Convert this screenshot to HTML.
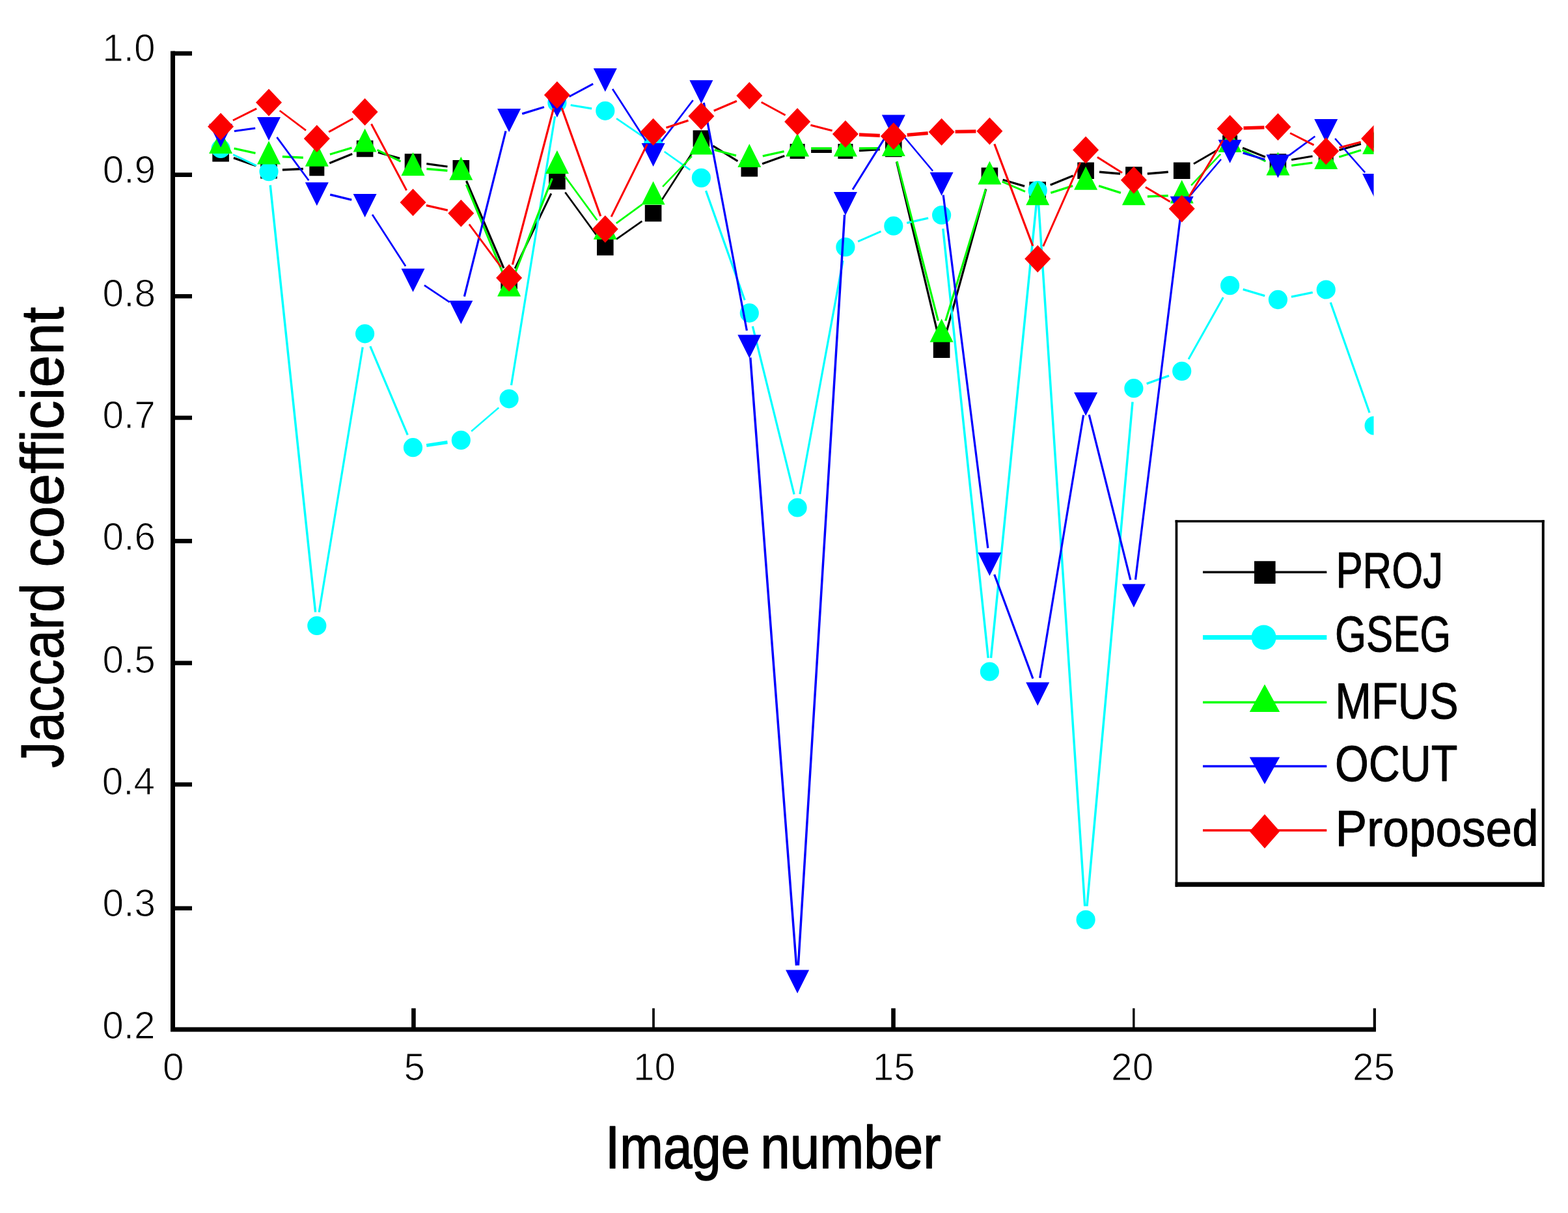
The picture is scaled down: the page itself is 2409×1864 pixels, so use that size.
<!DOCTYPE html>
<html lang="en"><head><meta charset="utf-8"><title>Jaccard coefficient</title>
<style>html,body{margin:0;padding:0;background:#fff}svg{display:block}text{font-family:"Liberation Sans",sans-serif;fill:#000}.tk{font-size:58.5px;stroke:#fff;stroke-width:1.1px}.ax{font-size:93px;stroke:#000;stroke-width:1.7px;stroke-linejoin:round}.ay{stroke-width:1px}.lg{font-size:78px;stroke:#000;stroke-width:1px;stroke-linejoin:round}</style></head><body>
<svg width="2409" height="1864" viewBox="0 0 2409 1864">
<rect width="2409" height="1864" fill="#fff"/>
<defs><clipPath id="c"><rect x="262" y="60" width="1848.5" height="1526"/></clipPath></defs>
<g clip-path="url(#c)">
<path d="M868.3 295.5L917.4 362.7M946.9 367.6L986.4 339.8M1015 310L1066.1 230.7" stroke="#000000" stroke-width="2.75" fill="none"/><path d="M791.2 412.6L846.8 297.4M1095.3 224.1L1133.4 247.6M1833.9 251.8L1871.4 230" stroke="#000000" stroke-width="3" fill="none"/><path d="M358.9 242.6L393.2 254.8M506.2 250.7L541.2 236.5M580.9 234.1L614.2 243.4M655.3 251.7L687.5 256M716.5 278L773.9 412.2M1171.1 251.7L1205.3 239.5M1377.6 248.9L1441.7 516.8M1452.2 517L1514.8 290.5M1540.6 276.2L1574.1 286.1M1613.7 284.2L1648.6 270.1M1909.1 227.3L1943.9 241.2M1984.1 245.5L2016.5 240M2057.4 230.8L2090.9 221.2" stroke="#000000" stroke-width="3.25" fill="none"/><path d="M433.9 260.9L465.8 259.6M1319.9 231.4L1351.8 229.6M1689 264.2L1721 267.1M1762.8 267.1L1794.8 264.2" stroke="#000000" stroke-width="3.5" fill="none"/><path d="M1246.1 232.5L1277.9 232.5" stroke="#000000" stroke-width="5.2" fill="none"/>
<path d="M326.3 222.8h25.6v25.6h-25.6zM400.2 249h25.6v25.6h-25.6zM475.3 247.2h23v23h-23zM547.8 215.7h25.6v25.6h-25.6zM621.7 236.2h25.6v25.6h-25.6zM695.5 245.9h25.6v25.6h-25.6zM769.3 418.7h25.6v25.6h-25.6zM843.1 265.7h25.6v25.6h-25.6zM917 366.9h25.6v25.6h-25.6zM990.8 314.9h25.6v25.6h-25.6zM1064.6 200.2h25.6v25.6h-25.6zM1138.5 245.9h25.6v25.6h-25.6zM1213.6 221h23v23h-23zM1287.4 221h23v23h-23zM1360 215.7h25.6v25.6h-25.6zM1433.8 524.4h25.6v25.6h-25.6zM1507.6 257.5h25.6v25.6h-25.6zM1581.4 279.2h25.6v25.6h-25.6zM1655.3 249.5h25.6v25.6h-25.6zM1729.1 256.2h25.6v25.6h-25.6zM1802.9 249.5h25.6v25.6h-25.6zM1878.1 208h23v23h-23zM1950.6 236.2h25.6v25.6h-25.6zM2025.7 225h23v23h-23zM2099.6 204h23v23h-23z" fill="#000000"/>
<path d="M724.2 662.7L766.2 626.5" stroke="#00ffff" stroke-width="2.5" fill="none"/><path d="M947.1 182.2L986.3 208.9M1020.7 233L1060.3 261.1" stroke="#00ffff" stroke-width="2.75" fill="none"/><path d="M358.1 237.5L394 254.6M1318.1 371.2L1353.5 355.7M1826 552L1879.3 457" stroke="#00ffff" stroke-width="3" fill="none"/><path d="M490.2 940.8L557.2 533.5M568.8 532.1L626.3 668.4M785.5 592.1L852.6 178.7M876.7 161.5L909.1 166.8M1084.5 293.1L1144.2 461.2M1156.3 501.4L1220.1 759.6M1228.9 759.3L1295.1 400.4M1393.2 342.6L1426.1 335.1M1761.7 589.6L1796 577.4M1909.7 444.6L1943.2 454.6M1983.9 456.2L2016.7 449.3M2044.2 464.8L2104.1 634.2" stroke="#00ffff" stroke-width="3.25" fill="none"/><path d="M415.2 284.5L484.6 940.6M1448.8 351.4L1518.2 1011.1M1522.5 1011.1L1592.2 313.5M1595.6 313.6L1666.7 1392.3M1670 1392.4L1740 617.6" stroke="#00ffff" stroke-width="3.5" fill="none"/><path d="M655.2 684.5L687.5 679.6" stroke="#00ffff" stroke-width="5.2" fill="none"/>
<path d="M324.5 228.5a14.6 14.6 0 1 0 29.2 0a14.6 14.6 0 1 0 -29.2 0zM398.4 263.6a14.6 14.6 0 1 0 29.2 0a14.6 14.6 0 1 0 -29.2 0zM472.2 961.5a14.6 14.6 0 1 0 29.2 0a14.6 14.6 0 1 0 -29.2 0zM546 512.8a14.6 14.6 0 1 0 29.2 0a14.6 14.6 0 1 0 -29.2 0zM619.9 687.7a14.6 14.6 0 1 0 29.2 0a14.6 14.6 0 1 0 -29.2 0zM693.7 676.4a14.6 14.6 0 1 0 29.2 0a14.6 14.6 0 1 0 -29.2 0zM767.5 612.8a14.6 14.6 0 1 0 29.2 0a14.6 14.6 0 1 0 -29.2 0zM841.3 158a14.6 14.6 0 1 0 29.2 0a14.6 14.6 0 1 0 -29.2 0zM915.2 170.3a14.6 14.6 0 1 0 29.2 0a14.6 14.6 0 1 0 -29.2 0zM989 220.8a14.6 14.6 0 1 0 29.2 0a14.6 14.6 0 1 0 -29.2 0zM1062.8 273.3a14.6 14.6 0 1 0 29.2 0a14.6 14.6 0 1 0 -29.2 0zM1136.7 481a14.6 14.6 0 1 0 29.2 0a14.6 14.6 0 1 0 -29.2 0zM1210.5 780a14.6 14.6 0 1 0 29.2 0a14.6 14.6 0 1 0 -29.2 0zM1284.3 379.7a14.6 14.6 0 1 0 29.2 0a14.6 14.6 0 1 0 -29.2 0zM1358.2 347.2a14.6 14.6 0 1 0 29.2 0a14.6 14.6 0 1 0 -29.2 0zM1432 330.5a14.6 14.6 0 1 0 29.2 0a14.6 14.6 0 1 0 -29.2 0zM1505.8 1032a14.6 14.6 0 1 0 29.2 0a14.6 14.6 0 1 0 -29.2 0zM1579.6 292.6a14.6 14.6 0 1 0 29.2 0a14.6 14.6 0 1 0 -29.2 0zM1653.5 1413.3a14.6 14.6 0 1 0 29.2 0a14.6 14.6 0 1 0 -29.2 0zM1727.3 596.7a14.6 14.6 0 1 0 29.2 0a14.6 14.6 0 1 0 -29.2 0zM1801.1 570.3a14.6 14.6 0 1 0 29.2 0a14.6 14.6 0 1 0 -29.2 0zM1875 438.7a14.6 14.6 0 1 0 29.2 0a14.6 14.6 0 1 0 -29.2 0zM1948.8 460.5a14.6 14.6 0 1 0 29.2 0a14.6 14.6 0 1 0 -29.2 0zM2022.6 445a14.6 14.6 0 1 0 29.2 0a14.6 14.6 0 1 0 -29.2 0zM2096.5 654a14.6 14.6 0 1 0 29.2 0a14.6 14.6 0 1 0 -29.2 0z" fill="#00ffff"/>
<path d="M1018.1 286.8L1062.9 240.1M1830.1 284.8L1875.2 236.8" stroke="#00ff00" stroke-width="2.5" fill="none"/><path d="M868.3 271.5L917.4 338.5M946.8 343.2L986.6 314.2" stroke="#00ff00" stroke-width="2.75" fill="none"/><path d="M579.5 230.4L615.6 248.2M1539.7 279.2L1575 294.4M1908.5 230.6L1944.5 247.9" stroke="#00ff00" stroke-width="3" fill="none"/><path d="M359.6 228.1L392.5 235.3M506.9 237.2L540.5 227.1M716.3 283.6L774.1 423.5M789.8 423.3L848.3 274.1M1097.7 230.4L1131 239.1M1171.8 239.9L1204.6 232.7M1378 247.8L1441.3 492.9M1452.7 493.1L1514.3 291M1614.3 296.4L1648.1 285.6M1688.1 285.6L1721.9 296.4M1984.2 254.3L2016.4 250.2M2057.3 241.3L2091 230.7" stroke="#00ff00" stroke-width="3.25" fill="none"/><path d="M433.9 240.8L465.8 242.3M655.4 259.4L687.4 262.3M1246.1 228.1L1277.9 228.1M1319.9 227.9L1351.8 227.7M1762.9 302L1794.7 300.8" stroke="#00ff00" stroke-width="3.5" fill="none"/>
<path d="M339.1 200L357.1 236L321.1 236zM413 216.4L431 252.4L395 252.4zM486.8 219.7L504.8 255.7L468.8 255.7zM560.6 197.6L578.6 233.6L542.6 233.6zM634.5 234L652.5 270L616.5 270zM708.3 240.7L726.3 276.7L690.3 276.7zM782.1 419.4L800.1 455.4L764.1 455.4zM855.9 231L873.9 267L837.9 267zM929.8 332L947.8 368L911.8 368zM1003.6 278.4L1021.6 314.4L985.6 314.4zM1077.4 201.5L1095.4 237.5L1059.4 237.5zM1151.3 221L1169.3 257L1133.3 257zM1225.1 204.6L1243.1 240.6L1207.1 240.6zM1298.9 204.6L1316.9 240.6L1280.9 240.6zM1372.8 204L1390.8 240L1354.8 240zM1446.6 489.7L1464.6 525.7L1428.6 525.7zM1520.4 247.4L1538.4 283.4L1502.4 283.4zM1594.2 279.2L1612.2 315.2L1576.2 315.2zM1668.1 255.8L1686.1 291.8L1650.1 291.8zM1741.9 279.2L1759.9 315.2L1723.9 315.2zM1815.7 276.6L1833.7 312.6L1797.7 312.6zM1889.6 198L1907.6 234L1871.6 234zM1963.4 233.5L1981.4 269.5L1945.4 269.5zM2037.2 224L2055.2 260L2019.2 260zM2111.1 201L2129.1 237L2093.1 237z" fill="#00ff00"/>
<path d="M1386.2 206.7L1433.1 262.7M1829.3 299.7L1876 244.8M2051.1 212.8L2097.2 265.2" stroke="#0000ff" stroke-width="2.5" fill="none"/><path d="M425.4 210.9L474.3 277.3M572 329.7L623.1 409.1M651.9 438.4L690.8 464.4M941.1 136.7L992.3 216.3M1016.3 217.3L1064.7 154M1980.3 238.9L2020.3 209.5" stroke="#0000ff" stroke-width="2.75" fill="none"/><path d="M874.5 148.5L911.2 128.9M1310 291.2L1361.6 208.4" stroke="#0000ff" stroke-width="3" fill="none"/><path d="M359.9 201.5L392.2 197M507.2 299.1L540.2 307.1M713.4 455.6L777 201.4M802.2 174.9L835.9 164.5M1081.3 157.9L1147.4 508M1449.2 299.6L1517.8 842.2M1527.7 882.7L1586.9 1042.7M1597.7 1041.7L1664.6 637.7M1673.2 637.4L1736.8 891.2M1744.5 890.8L1813.1 336.5M1909.6 234.9L1943.3 245.3" stroke="#0000ff" stroke-width="3.25" fill="none"/><path d="M1152.8 549.5L1223.5 1483.6M1226.4 1483.5L1297.6 330" stroke="#0000ff" stroke-width="3.5" fill="none"/>
<path d="M339.1 226.5L357.1 190.5L321.1 190.5zM413 216L431 180L395 180zM486.8 316.2L504.8 280.2L468.8 280.2zM560.6 334L578.6 298L542.6 298zM634.5 448.8L652.5 412.8L616.5 412.8zM708.3 498L726.3 462L690.3 462zM782.1 203L800.1 167L764.1 167zM855.9 180.4L873.9 144.4L837.9 144.4zM929.8 141L947.8 105L911.8 105zM1003.6 256L1021.6 220L985.6 220zM1077.4 159.3L1095.4 123.3L1059.4 123.3zM1151.3 550.6L1169.3 514.6L1133.3 514.6zM1225.1 1526.5L1243.1 1490.5L1207.1 1490.5zM1298.9 331L1316.9 295L1280.9 295zM1372.8 212.6L1390.8 176.6L1354.8 176.6zM1446.6 300.8L1464.6 264.8L1428.6 264.8zM1520.4 885L1538.4 849L1502.4 849zM1594.2 1084.4L1612.2 1048.4L1576.2 1048.4zM1668.1 639L1686.1 603L1650.1 603zM1741.9 933.6L1759.9 897.6L1723.9 897.6zM1815.7 337.7L1833.7 301.7L1797.7 301.7zM1889.6 250.8L1907.6 214.8L1871.6 214.8zM1963.4 273.4L1981.4 237.4L1945.4 237.4zM2037.2 219L2055.2 183L2019.2 183zM2111.1 303L2129.1 267L2093.1 267z" fill="#0000ff"/>
<path d="M429.7 170L470 200.4M720.8 344.6L769.6 410.1" stroke="#fb0000" stroke-width="2.75" fill="none"/><path d="M357.9 185L394.2 166.8M505.1 202.8L542.3 182.2M570.5 190.5L624.6 292.5M939.1 333.2L994.3 221.6M1169.7 157L1206.6 177M1602.7 378.5L1659.6 249.7M1685.9 241.6L1724.1 265.6M1759.9 287.5L1797.7 310M1826.5 302.8L1878.8 215.7M1982.1 204.5L2018.5 222.8" stroke="#fb0000" stroke-width="3" fill="none"/><path d="M654.9 315.6L687.8 323.1M787.4 406.7L850.6 166.2M863 165.7L922.7 332.2M1023.5 196.2L1057.5 185.1M1096.7 170.3L1131.9 155.2M1245.4 192.2L1278.6 200.8M1527.8 221.2L1586.8 378M2057.5 227L2090.7 218.3" stroke="#fb0000" stroke-width="3.25" fill="none"/><path d="M1319.9 206.9L1351.8 208.3M1393.7 207.4L1425.7 204.6M1467.6 202.4L1499.4 201.9M1910.5 196.9L1942.4 195.8" stroke="#fb0000" stroke-width="5.2" fill="none"/>
<path d="M339.1 173.4L359.1 194.4L339.1 215.4L319.1 194.4zM413 136.4L433 157.4L413 178.4L393 157.4zM486.8 192L506.8 213L486.8 234L466.8 213zM560.6 151L580.6 172L560.6 193L540.6 172zM634.5 290L654.5 311L634.5 332L614.5 311zM708.3 306.7L728.3 327.7L708.3 348.7L688.3 327.7zM782.1 406L802.1 427L782.1 448L762.1 427zM855.9 124.9L875.9 145.9L855.9 166.9L835.9 145.9zM929.8 331L949.8 352L929.8 373L909.8 352zM1003.6 181.8L1023.6 202.8L1003.6 223.8L983.6 202.8zM1077.4 157.5L1097.4 178.5L1077.4 199.5L1057.4 178.5zM1151.3 126L1171.3 147L1151.3 168L1131.3 147zM1225.1 166L1245.1 187L1225.1 208L1205.1 187zM1298.9 185L1318.9 206L1298.9 227L1278.9 206zM1372.8 188.2L1392.8 209.2L1372.8 230.2L1352.8 209.2zM1446.6 181.8L1466.6 202.8L1446.6 223.8L1426.6 202.8zM1520.4 180.5L1540.4 201.5L1520.4 222.5L1500.4 201.5zM1594.2 376.7L1614.2 397.7L1594.2 418.7L1574.2 397.7zM1668.1 209.5L1688.1 230.5L1668.1 251.5L1648.1 230.5zM1741.9 255.7L1761.9 276.7L1741.9 297.7L1721.9 276.7zM1815.7 299.8L1835.7 320.8L1815.7 341.8L1795.7 320.8zM1889.6 176.7L1909.6 197.7L1889.6 218.7L1869.6 197.7zM1963.4 174L1983.4 195L1963.4 216L1943.4 195zM2037.2 211.3L2057.2 232.3L2037.2 253.3L2017.2 232.3zM2111.1 192L2131.1 213L2111.1 234L2091.1 213z" fill="#fb0000"/>
</g>
<path d="M265.5 78.6V1585.6M262 1582.1H2113.9" stroke="#000" stroke-width="7" fill="none"/>
<path d="M265 82.1H295M265 268.6H295M265 455.2H295M265 642H295M265 831.4H295M265 1018.9H295M265 1205.5H295M265 1395.8H295" stroke="#000" stroke-width="6.6" fill="none"/>
<path d="M635.4 1583V1549.4" stroke="#000" stroke-width="6.6" fill="none"/>
<path d="M1004 1583V1549.4" stroke="#000" stroke-width="3.7" fill="none"/>
<path d="M1372.5 1583V1549.4" stroke="#000" stroke-width="6.6" fill="none"/>
<path d="M1741.8 1583V1549.4" stroke="#000" stroke-width="3.4" fill="none"/>
<path d="M2111.8 1583V1549.4" stroke="#000" stroke-width="4.2" fill="none"/>
<text class="tk" x="157.3" y="94.1">1.0</text>
<text class="tk" x="157.7" y="281.1">0.9</text>
<text class="tk" x="157.6" y="471">0.8</text>
<text class="tk" x="157.4" y="657.5">0.7</text>
<text class="tk" x="157.6" y="844.6">0.6</text>
<text class="tk" x="157.4" y="1034">0.5</text>
<text class="tk" x="156.7" y="1221">0.4</text>
<text class="tk" x="157.6" y="1408">0.3</text>
<text class="tk" x="157.3" y="1596.4">0.2</text>
<text class="tk" x="250" y="1660">0</text>
<text class="tk" x="620.6" y="1660">5</text>
<text class="tk" x="972.9" y="1660">10</text>
<text class="tk" x="1340.7" y="1660">15</text>
<text class="tk" x="1707.1" y="1660">20</text>
<text class="tk" x="2078" y="1660">25</text>
<text class="ax" y="1794.6"><tspan x="930.1" textLength="222.2" lengthAdjust="spacingAndGlyphs">Image</tspan> <tspan x="1168.3" textLength="277.1" lengthAdjust="spacingAndGlyphs">number</tspan></text>
<text class="ax ay" transform="translate(96.9 1179.3) rotate(-90)"><tspan x="-0.7" textLength="284.2" lengthAdjust="spacingAndGlyphs">Jaccard</tspan> <tspan x="307.5" textLength="400.4" lengthAdjust="spacingAndGlyphs">coefficient</tspan></text>
<rect x="1807.5" y="801" width="563" height="558" fill="#fff" stroke="none"/>
<path d="M1807.45 799.3V1362.7" stroke="#000" stroke-width="3.7" fill="none"/>
<path d="M2370.8 799.3V1362.7" stroke="#000" stroke-width="4" fill="none"/>
<path d="M1805.6 801H2372.8" stroke="#000" stroke-width="3.5" fill="none"/>
<path d="M1805.6 1359.15H2372.8" stroke="#000" stroke-width="7.1" fill="none"/>
<path d="M1848 879.3H2038.3" stroke="#000000" stroke-width="3.5" fill="none"/>
<path d="M1848 979.6H2038.3" stroke="#00ffff" stroke-width="7" fill="none"/>
<path d="M1848 1079.2H2038.3" stroke="#00ff00" stroke-width="3.5" fill="none"/>
<path d="M1848 1177.4H2038.3" stroke="#0000ff" stroke-width="3.5" fill="none"/>
<path d="M1848 1276H2038.3" stroke="#fb0000" stroke-width="3.5" fill="none"/>
<path d="M1927 862.2h32.6v34.8h-32.6z" fill="#000"/>
<path d="M1922.6 979.5a19 19 0 1 0 38 0a19 19 0 1 0 -38 0z" fill="#00ffff"/>
<path d="M1943 1051.5L1966.2 1094L1919.8 1094z" fill="#00ff00"/>
<path d="M1943 1205L1966.2 1163.5L1919.8 1163.5z" fill="#0000ff"/>
<path d="M1943 1251.2L1966.2 1277.5L1943 1303.8L1919.8 1277.5z" fill="#fb0000"/>
<text class="lg" transform="translate(2052.4 902.9) scale(0.7917 1)">PROJ</text>
<text class="lg" transform="translate(2051 1001.3) scale(0.7910 1)">GSEG</text>
<text class="lg" transform="translate(2051.3 1103.8) scale(0.8563 1)">MFUS</text>
<text class="lg" transform="translate(2050.9 1199.9) scale(0.8535 1)">OCUT</text>
<text class="lg" transform="translate(2051.4 1300.3) scale(0.9357 1)">Proposed</text>
</svg></body></html>
